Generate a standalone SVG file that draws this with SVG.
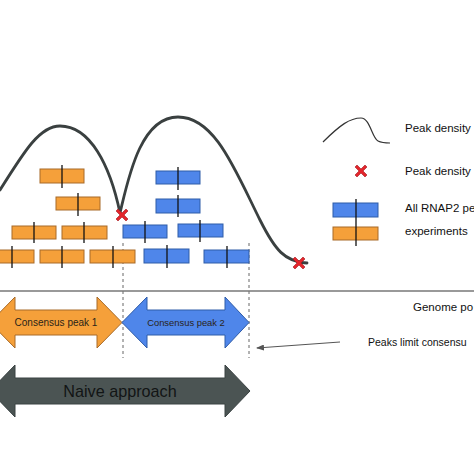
<svg xmlns="http://www.w3.org/2000/svg" width="474" height="474" viewBox="0 0 474 474">
<defs>
<style>
.or{fill:#F5A03A;stroke:#A86A28;stroke-width:1}
.bl{fill:#4F86EA;stroke:#2F5CA8;stroke-width:1}
.tick{stroke:#111;stroke-width:1.3}
.curve{fill:none;stroke:#3A4040;stroke-width:2.8;stroke-linecap:round}
.dash{stroke:#666;stroke-width:1;stroke-dasharray:3,3}
.lbl{font-family:"Liberation Sans",Arial,sans-serif;font-size:11.5px;fill:#111}
.arrtxt{font-family:"Liberation Sans",Arial,sans-serif;fill:#2a2418}
.cross{fill:#E3252B;stroke:#A31A1E;stroke-width:0.6}
</style>
<path id="x" class="cross" d="M-6,-4 L-4,-6 L0,-2 L4,-6 L6,-4 L2,0 L6,4 L4,6 L0,2 L-4,6 L-6,4 L-2,0 Z"/>
<marker id="ah" markerWidth="8" markerHeight="6" refX="7" refY="3" orient="auto" markerUnits="userSpaceOnUse">
<path d="M0,0 L8,3 L0,6 Z" fill="#555"/>
</marker>
</defs>
<rect width="474" height="474" fill="#fff"/>

<g id="connectors">
<line class="dash" x1="123" y1="243" x2="123" y2="358"/>
<line class="dash" x1="249" y1="243" x2="249" y2="358"/>
<line x1="0" y1="291" x2="474" y2="291" stroke="#777" stroke-width="1.3"/>
<line x1="340" y1="342" x2="257" y2="348" stroke="#555" stroke-width="1" marker-end="url(#ah)"/>
</g>

<g id="density-curve">
<path class="curve" d="M0,190 C25,150 40,126 60,126 C90,126 110,165 120,213 C128,180 140,117 178,117 C215,117 235,170 260,220 C275,250 285,262 307,263"/>
<use href="#x" x="122" y="215"/>
<use href="#x" x="299" y="263"/>
</g>

<g id="orange-peaks">
<rect class="or" x="40" y="169" width="44" height="14"/><line class="tick" x1="62" y1="165" x2="62" y2="188"/>
<rect class="or" x="56" y="197" width="44" height="13"/><line class="tick" x1="78" y1="193" x2="78" y2="216"/>
<rect class="or" x="12" y="226" width="44" height="13"/><line class="tick" x1="34" y1="222" x2="34" y2="243"/>
<rect class="or" x="62" y="226" width="45" height="13"/><line class="tick" x1="84" y1="222" x2="84" y2="243"/>
<rect class="or" x="-10" y="250" width="44" height="13"/><line class="tick" x1="12" y1="246" x2="12" y2="268"/>
<rect class="or" x="40" y="250" width="44" height="13"/><line class="tick" x1="62" y1="246" x2="62" y2="268"/>
<rect class="or" x="90" y="250" width="45" height="13"/><line class="tick" x1="113" y1="246" x2="113" y2="268"/>
</g>

<g id="blue-peaks">
<rect class="bl" x="156" y="171" width="44" height="13"/><line class="tick" x1="178" y1="167" x2="178" y2="190"/>
<rect class="bl" x="156" y="199" width="44" height="14"/><line class="tick" x1="178" y1="195" x2="178" y2="217"/>
<rect class="bl" x="123" y="225" width="44" height="13"/><line class="tick" x1="145" y1="221" x2="145" y2="243"/>
<rect class="bl" x="178" y="224" width="45" height="13"/><line class="tick" x1="200" y1="220" x2="200" y2="242"/>
<rect class="bl" x="144" y="249" width="45" height="14"/><line class="tick" x1="167" y1="245" x2="167" y2="268"/>
<rect class="bl" x="204" y="250" width="45" height="13"/><line class="tick" x1="227" y1="246" x2="227" y2="268"/>
</g>

<g id="consensus-peak-1">
<polygon points="-10,322.5 15,297 15,310 97,310 97,297 122,322.5 97,348 97,335 15,335 15,348" fill="#F5A03A" stroke="#A86A28" stroke-width="1"/>
<text class="arrtxt" x="56" y="326" font-size="10" text-anchor="middle">Consensus peak 1</text>
</g>

<g id="consensus-peak-2">
<polygon points="122,322.5 147,297 147,310 225,310 225,297 249,322.5 225,348 225,335 147,335 147,348" fill="#4F86EA" stroke="#2F5CA8" stroke-width="1"/>
<text class="arrtxt" x="186" y="326" font-size="9.4" text-anchor="middle" fill="#1c2a44">Consensus peak 2</text>
</g>

<g id="naive-approach">
<polygon points="-10,391 15,365 15,378 225,378 225,365 250,391 225,417 225,404 15,404 15,417" fill="#4B5453" stroke="#3A4242" stroke-width="1"/>
<text x="120" y="397" font-family="Liberation Sans,Arial,sans-serif" font-size="16.2" text-anchor="middle" fill="#121515">Naive approach</text>
</g>

<g id="legend-curve">
<path d="M323,142 C340,125 350,118 361,118 C370,118 372,138 378,141 C382,143 386,143 390,143" fill="none" stroke="#333" stroke-width="1.2"/>
<text class="lbl" x="405" y="132">Peak density</text>
</g>

<g id="legend-cross">
<use href="#x" x="361" y="171"/>
<text class="lbl" x="405" y="175">Peak density</text>
</g>

<g id="legend-peaks">
<rect class="bl" x="333" y="203" width="45" height="14"/>
<rect class="or" x="333" y="227" width="45" height="13"/>
<line class="tick" x1="356" y1="199" x2="356" y2="246"/>
<text class="lbl" x="405" y="212">All RNAP2 pe</text>
<text class="lbl" x="405" y="235">experiments</text>
</g>

<g id="genome-label">
<text class="lbl" x="413" y="311">Genome po</text>
</g>
<g id="limit-label">
<text class="lbl" x="368" y="346" style="font-size:10.5px">Peaks limit consensu</text>
</g>
</svg>
